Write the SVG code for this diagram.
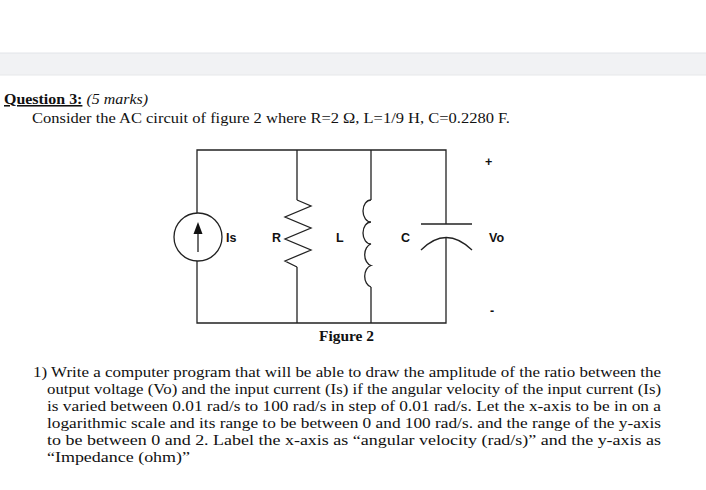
<svg xmlns="http://www.w3.org/2000/svg" width="706" height="490" viewBox="0 0 706 490">
<style>
.w{fill:none;stroke:#222;stroke-width:1.3}
.l{font-family:"Liberation Sans",Arial,sans-serif;font-weight:bold;font-size:12.5px;fill:#111}
.t{font-family:"Liberation Serif","Times New Roman",serif;font-size:15.5px;fill:#111}
</style>
<rect width="706" height="490" fill="#fff"/>
<rect x="0" y="53" width="706" height="22" fill="#f1f2f4"/>
<line x1="0" y1="53" x2="706" y2="53" stroke="#e2e4e8"/>
<line x1="0" y1="75" x2="706" y2="75" stroke="#e6e8ea"/>
<text class="t" x="4" y="104" textLength="144" lengthAdjust="spacingAndGlyphs"><tspan font-weight="bold" text-decoration="underline">Question 3:</tspan><tspan font-style="italic"> (5 marks)</tspan></text>
<text class="t" x="32" y="123" textLength="478" lengthAdjust="spacingAndGlyphs">Consider the AC circuit of figure 2 where R=2 Ω, L=1/9 H, C=0.2280 F.</text>
<g id="connectors">
<path class="w" d="M197 213 V150 H446 V224 M446 237 V323 H197 V261"/>
<path class="w" d="M297 150 V200 M297 267 V323"/>
<path class="w" d="M371 150 V200 M371 287 V323"/>
</g>
<g id="source"><circle class="w" cx="198" cy="237" r="24"/><line class="w" x1="198" y1="252" x2="198" y2="232"/><polygon points="198,222 193.5,234 202.5,234" fill="#111"/></g>
<g id="resistor"><path class="w" d="M297 200 L311 206 L285 217 L311 228 L285 239 L311 250 L285 261 L297 267"/></g>
<g id="inductor"><path class="w" d="M371 200 a8 11 0 0 0 0 22 a8 11 0 0 0 0 22 a8 11 0 0 0 0 21.5 a8 11 0 0 0 0 21.5"/></g>
<g id="capacitor"><line class="w" x1="421" y1="224" x2="472" y2="224"/><path class="w" d="M421 250 Q446 225 472 250"/></g>
<text class="l" x="226" y="242">Is</text>
<text class="l" x="272" y="242">R</text>
<text class="l" x="336" y="242">L</text>
<text class="l" x="401" y="242">C</text>
<text class="l" x="489" y="242">Vo</text>
<text class="l" x="485" y="166">+</text>
<text class="l" x="490" y="315">-</text>
<text class="t" x="319" y="341" font-weight="bold" textLength="55" lengthAdjust="spacingAndGlyphs">Figure 2</text>
<text class="t" x="33" y="377" textLength="628" lengthAdjust="spacingAndGlyphs">1) Write a computer program that will be able to draw the amplitude of the ratio between the</text>
<text class="t" x="47" y="394" textLength="614" lengthAdjust="spacingAndGlyphs">output voltage (Vo) and the input current (Is) if the angular velocity of the input current (Is)</text>
<text class="t" x="47" y="411" textLength="614" lengthAdjust="spacingAndGlyphs">is varied between 0.01 rad/s  to 100 rad/s in step of 0.01 rad/s. Let the x-axis  to be in on a</text>
<text class="t" x="47" y="428" textLength="614" lengthAdjust="spacingAndGlyphs">logarithmic  scale  and its range  to be between 0 and 100 rad/s. and the range of the y-axis</text>
<text class="t" x="47" y="445" textLength="614" lengthAdjust="spacingAndGlyphs">to  be  between  0  and  2.  Label  the  x-axis  as  “angular  velocity  (rad/s)”  and  the  y-axis  as</text>
<text class="t" x="47" y="462" textLength="143" lengthAdjust="spacingAndGlyphs">“Impedance (ohm)”</text>
</svg>
